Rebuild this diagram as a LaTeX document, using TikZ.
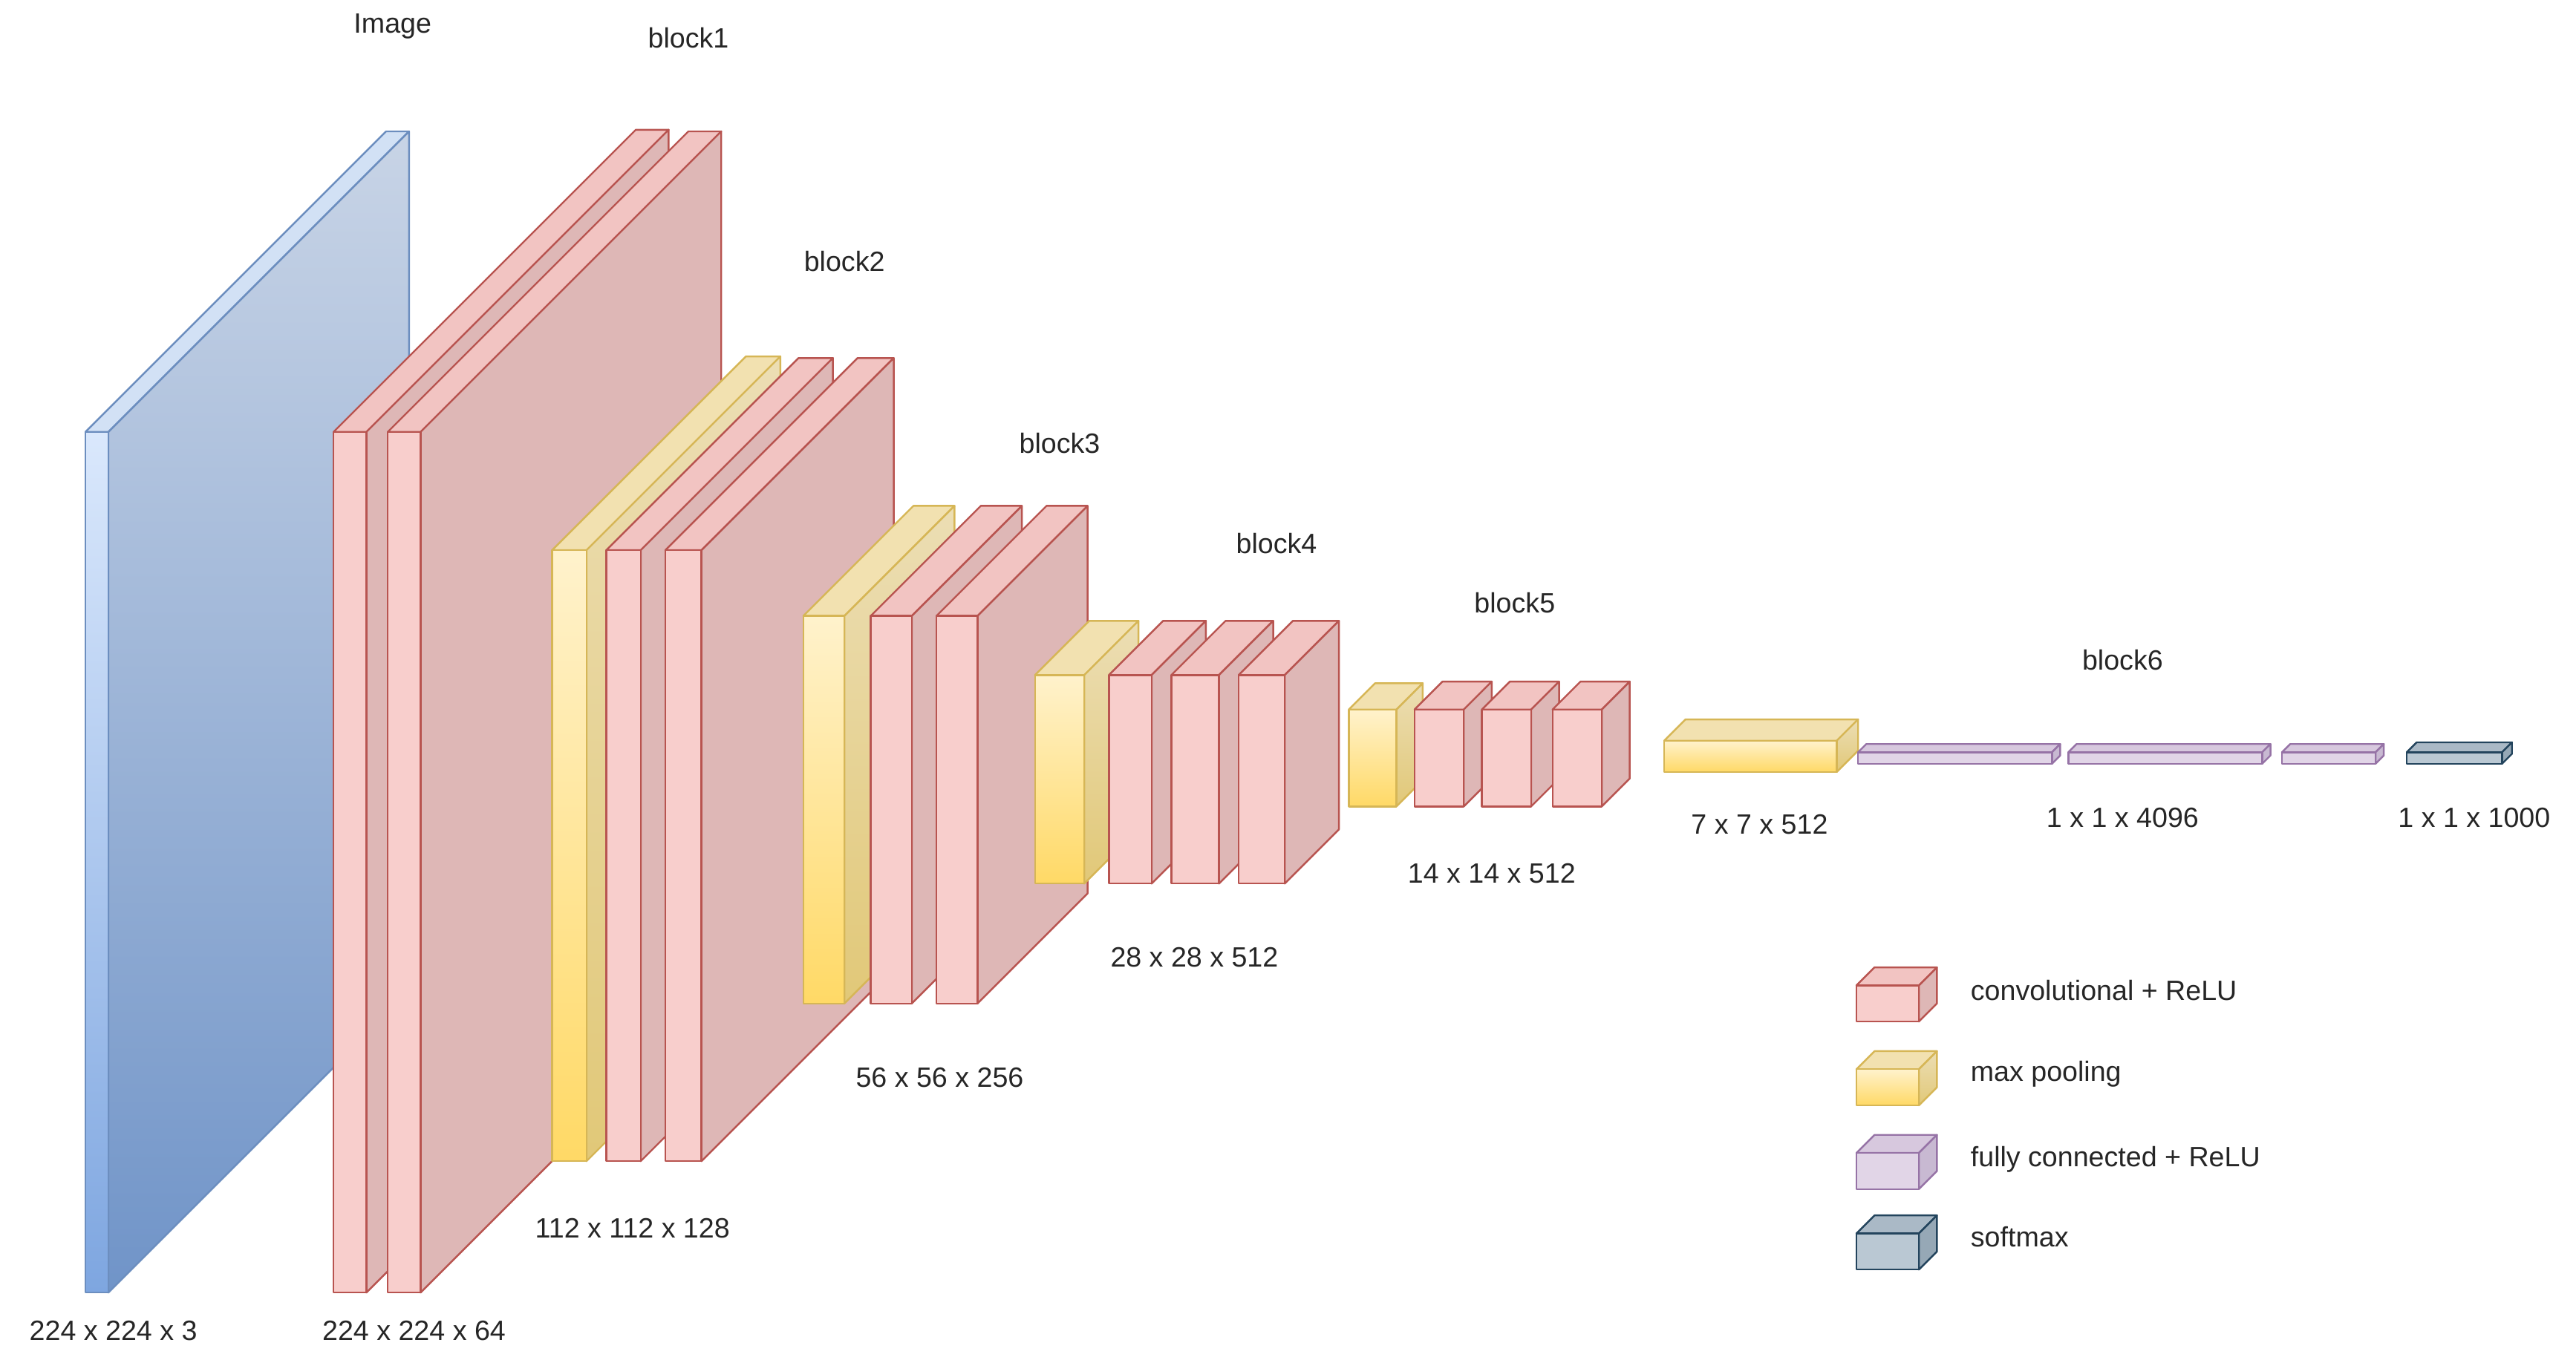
\documentclass[tikz,border=0pt]{standalone}
\usepackage{fontspec}
\setmainfont{Liberation Sans}
\begin{document}
\begin{tikzpicture}[x=1pt,y=1pt,line join=round,line width=1.1pt,
 lab/.style={font=\fontsize{17}{20}\selectfont,text=black!85,inner sep=0},
 pkF/.style={fill=red!8!pink!60!white,draw=red!50!black!70},
 pkF/.style={fill={rgb,255:red,248;green,206;blue,204},draw={rgb,255:red,184;green,84;blue,80}},
 pkT/.style={fill={rgb,255:red,242;green,196;blue,194},draw={rgb,255:red,184;green,84;blue,80}},
 pkS/.style={fill={rgb,255:red,222;green,183;blue,182},draw={rgb,255:red,184;green,84;blue,80}},
 ylF/.style={top color={rgb,255:red,255;green,242;blue,204},bottom color={rgb,255:red,255;green,217;blue,102},draw={rgb,255:red,214;green,182;blue,86}},
 ylT/.style={fill={rgb,255:red,242;green,225;blue,176},draw={rgb,255:red,214;green,182;blue,86}},
 ylS/.style={top color={rgb,255:red,236;green,222;blue,180},bottom color={rgb,255:red,225;green,200;blue,120},draw={rgb,255:red,214;green,182;blue,86}},
 blF/.style={top color={rgb,255:red,218;green,232;blue,252},bottom color={rgb,255:red,126;green,166;blue,224},draw={rgb,255:red,108;green,142;blue,191}},
 blT/.style={fill={rgb,255:red,210;green,225;blue,245},draw={rgb,255:red,108;green,142;blue,191}},
 blS/.style={top color={rgb,255:red,200;green,212;blue,230},bottom color={rgb,255:red,112;green,148;blue,200},draw={rgb,255:red,108;green,142;blue,191}},
 puF/.style={fill={rgb,255:red,225;green,213;blue,231},draw={rgb,255:red,150;green,115;blue,166}},
 puT/.style={fill={rgb,255:red,215;green,200;blue,222},draw={rgb,255:red,150;green,115;blue,166}},
 puS/.style={fill={rgb,255:red,200;green,185;blue,210},draw={rgb,255:red,150;green,115;blue,166}},
 grF/.style={fill={rgb,255:red,186;green,200;blue,211},draw={rgb,255:red,35;green,68;blue,93}},
 grT/.style={fill={rgb,255:red,170;green,185;blue,198},draw={rgb,255:red,35;green,68;blue,93}},
 grS/.style={fill={rgb,255:red,150;green,168;blue,182},draw={rgb,255:red,35;green,68;blue,93}}]
\newcommand\cub[6]{%
 \path[#6T] (#1,-#2)--({#1+#5},{-#2+#5})--({#3+#5},{-#2+#5})--(#3,-#2)--cycle;
 \path[#6S] (#3,-#2)--({#3+#5},{-#2+#5})--({#3+#5},{-#4+#5})--(#3,-#4)--cycle;
 \path[#6F] (#1,-#2) rectangle (#3,-#4);}
\useasboundingbox (0,0) rectangle (1568,-828);
% image
\cub{52}{263}{66}{787}{183}{bl}
% block1
\cub{203}{263}{223}{787}{184}{pk}
\cub{236}{263}{256}{787}{183}{pk}
% block2
\cub{336}{335}{357}{707}{118}{yl}
\cub{369}{335}{390}{707}{117}{pk}
\cub{405}{335}{427}{707}{117}{pk}
% block3
\cub{489}{375}{514}{611}{67}{yl}
\cub{530}{375}{555}{611}{67}{pk}
\cub{570}{375}{595}{611}{67}{pk}
% block4
\cub{630}{411}{660}{538}{33}{yl}
\cub{675}{411}{701}{538}{33}{pk}
\cub{713}{411}{742}{538}{33}{pk}
\cub{754}{411}{782}{538}{33}{pk}
% block5
\cub{821}{432}{850}{491}{16}{yl}
\cub{861}{432}{891}{491}{17}{pk}
\cub{902}{432}{932}{491}{17}{pk}
\cub{945}{432}{975}{491}{17}{pk}
% block6
\cub{1013}{451}{1118}{470}{13}{yl}
\cub{1131}{458}{1249}{465}{5}{pu}
\cub{1259}{458}{1377}{465}{5}{pu}
\cub{1389}{458}{1446}{465}{5}{pu}
\cub{1465}{458}{1523}{465}{6}{gr}
% legend
\cub{1130}{600}{1168}{622}{11}{pk}
\cub{1130}{651}{1168}{673}{11}{yl}
\cub{1130}{702}{1168}{724}{11}{pu}
\cub{1130}{751}{1168}{773}{11}{gr}
\node[lab,anchor=west] (l1) at (1199,-603) {convolutional + ReLU};
\node[lab,anchor=west] (l2) at (1199,-654) {max pooling};
\node[lab,anchor=west] (l3) at (1199,-706) {fully connected + ReLU};
\node[lab,anchor=west] (l4) at (1199,-753) {softmax};
% titles
\node[lab] (t0) at (239,-16) {Image};
\node[lab] (t1) at (419,-23) {block1};
\node[lab] (t2) at (514,-159) {block2};
\node[lab] (t3) at (645,-270) {block3};
\node[lab] (t4) at (777,-331) {block4};
\node[lab] (t5) at (922,-367) {block5};
\node[lab] (t6) at (1292,-402) {block6};
% sizes
\node[lab] (s0) at (69,-810) {224 x 224 x 3};
\node[lab] (s1) at (252,-810) {224 x 224 x 64};
\node[lab] (s2) at (385,-748) {112 x 112 x 128};
\node[lab] (s3) at (572,-656) {56 x 56 x 256};
\node[lab] (s4) at (727,-583) {28 x 28 x 512};
\node[lab] (s5) at (908,-532) {14 x 14 x 512};
\node[lab] (s6) at (1071,-502) {7 x 7 x 512};
\node[lab] (s7) at (1292,-498) {1 x 1 x 4096};
\node[lab] (s8) at (1506,-498) {1 x 1 x 1000};
\end{tikzpicture}
\end{document}
